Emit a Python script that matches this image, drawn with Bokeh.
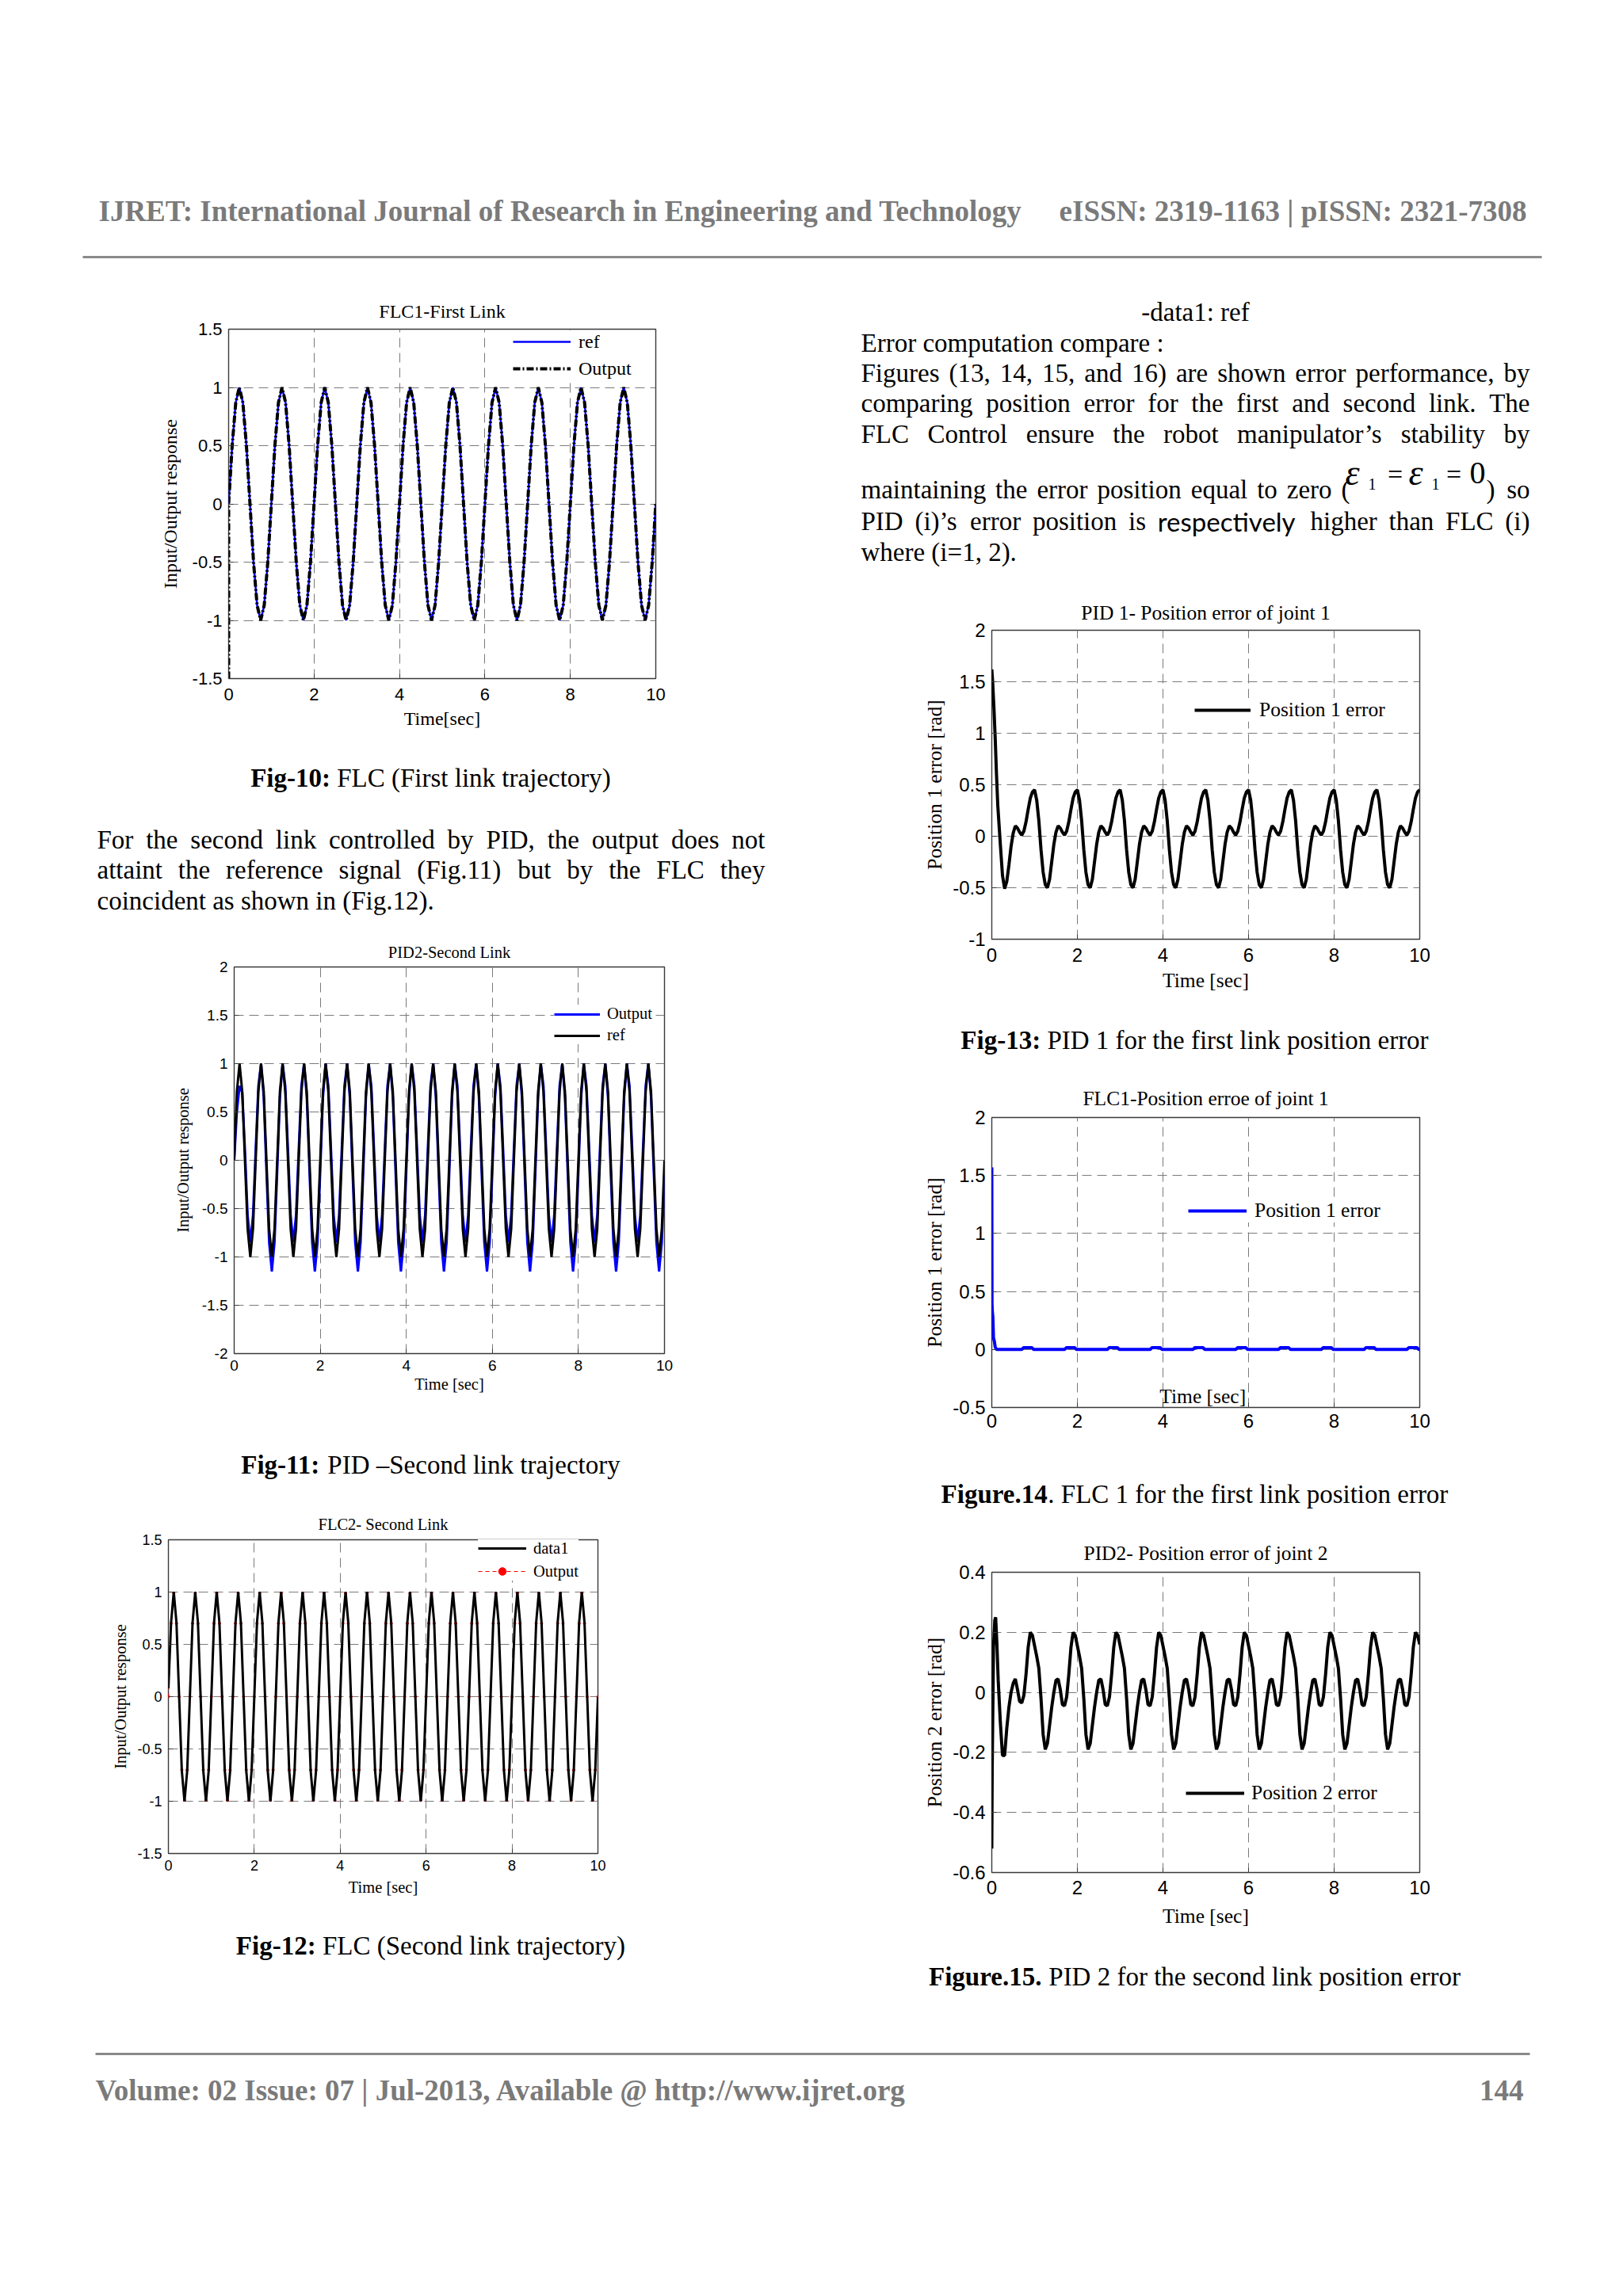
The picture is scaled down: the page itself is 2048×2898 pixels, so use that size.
import numpy as np
from bokeh.plotting import figure
from bokeh.layouts import column, row
from bokeh.models import Range1d, FixedTicker, NumeralTickFormatter, Legend, LegendItem, Label, Spacer
from bokeh.core.properties import value
from bokeh.embed import file_html
from bokeh.resources import INLINE

SERIF = "Liberation Serif"
SANS = "Liberation Sans"
BLUE = "#0000ff"

# ---------------------------------------------------------------- data
x_ticks = [0, 2, 4, 6, 8, 10]

# Fig-10 FLC1 first link (t step 1/12 s)
flc1_time = list(np.arange(121) / 12.0)
flc1_ref = [
    0.0, 0.5, 0.87, 1.0, 0.87, 0.5, 0.0, -0.5, -0.87, -1.0, -0.87, -0.5,
    0.0, 0.5, 0.87, 1.0, 0.87, 0.5, 0.0, -0.5, -0.87, -1.0, -0.87, -0.5,
    0.0, 0.5, 0.87, 1.0, 0.87, 0.5, 0.0, -0.5, -0.87, -1.0, -0.87, -0.5,
    0.0, 0.5, 0.87, 1.0, 0.87, 0.5, 0.0, -0.5, -0.87, -1.0, -0.87, -0.5,
    0.0, 0.5, 0.87, 1.0, 0.87, 0.5, 0.0, -0.5, -0.87, -1.0, -0.87, -0.5,
    0.0, 0.5, 0.87, 1.0, 0.87, 0.5, 0.0, -0.5, -0.87, -1.0, -0.87, -0.5,
    0.0, 0.5, 0.87, 1.0, 0.87, 0.5, 0.0, -0.5, -0.87, -1.0, -0.87, -0.5,
    0.0, 0.5, 0.87, 1.0, 0.87, 0.5, 0.0, -0.5, -0.87, -1.0, -0.87, -0.5,
    0.0, 0.5, 0.87, 1.0, 0.87, 0.5, 0.0, -0.5, -0.87, -1.0, -0.87, -0.5,
    0.0, 0.5, 0.87, 1.0, 0.87, 0.5, 0.0, -0.5, -0.87, -1.0, -0.87, -0.5,
    0.0,
]
flc1_output_time = [0.0] + flc1_time
flc1_output = [
    -1.5,
    0.0, 0.5, 0.87, 1.0, 0.87, 0.5, 0.0, -0.5, -0.87, -1.0, -0.87, -0.5,
    0.0, 0.5, 0.87, 1.0, 0.87, 0.5, 0.0, -0.5, -0.87, -1.0, -0.87, -0.5,
    0.0, 0.5, 0.87, 1.0, 0.87, 0.5, 0.0, -0.5, -0.87, -1.0, -0.87, -0.5,
    0.0, 0.5, 0.87, 1.0, 0.87, 0.5, 0.0, -0.5, -0.87, -1.0, -0.87, -0.5,
    0.0, 0.5, 0.87, 1.0, 0.87, 0.5, 0.0, -0.5, -0.87, -1.0, -0.87, -0.5,
    0.0, 0.5, 0.87, 1.0, 0.87, 0.5, 0.0, -0.5, -0.87, -1.0, -0.87, -0.5,
    0.0, 0.5, 0.87, 1.0, 0.87, 0.5, 0.0, -0.5, -0.87, -1.0, -0.87, -0.5,
    0.0, 0.5, 0.87, 1.0, 0.87, 0.5, 0.0, -0.5, -0.87, -1.0, -0.87, -0.5,
    0.0, 0.5, 0.87, 1.0, 0.87, 0.5, 0.0, -0.5, -0.87, -1.0, -0.87, -0.5,
    0.0, 0.5, 0.87, 1.0, 0.87, 0.5, 0.0, -0.5, -0.87, -1.0, -0.87, -0.5,
    0.0,
]

# Fig-11 PID2 second link (t step 1/16 s)
pid2_time = list(np.arange(161) / 16.0)
pid2_output = [
    0.0, 0.50, 0.77, 0.70, 0.11, -0.57, -0.85, -0.57, 0.11, 0.77, 1.0, 0.65, -0.11, -0.85, -1.15, -0.85,
    -0.11, 0.65, 1.0, 0.77, 0.11, -0.57, -0.85, -0.57, 0.11, 0.77, 1.0, 0.65, -0.11, -0.85, -1.15, -0.85,
    -0.11, 0.65, 1.0, 0.77, 0.11, -0.57, -0.85, -0.57, 0.11, 0.77, 1.0, 0.65, -0.11, -0.85, -1.15, -0.85,
    -0.11, 0.65, 1.0, 0.77, 0.11, -0.57, -0.85, -0.57, 0.11, 0.77, 1.0, 0.65, -0.11, -0.85, -1.15, -0.85,
    -0.11, 0.65, 1.0, 0.77, 0.11, -0.57, -0.85, -0.57, 0.11, 0.77, 1.0, 0.65, -0.11, -0.85, -1.15, -0.85,
    -0.11, 0.65, 1.0, 0.77, 0.11, -0.57, -0.85, -0.57, 0.11, 0.77, 1.0, 0.65, -0.11, -0.85, -1.15, -0.85,
    -0.11, 0.65, 1.0, 0.77, 0.11, -0.57, -0.85, -0.57, 0.11, 0.77, 1.0, 0.65, -0.11, -0.85, -1.15, -0.85,
    -0.11, 0.65, 1.0, 0.77, 0.11, -0.57, -0.85, -0.57, 0.11, 0.77, 1.0, 0.65, -0.11, -0.85, -1.15, -0.85,
    -0.11, 0.65, 1.0, 0.77, 0.11, -0.57, -0.85, -0.57, 0.11, 0.77, 1.0, 0.65, -0.11, -0.85, -1.15, -0.85,
    -0.11, 0.65, 1.0, 0.77, 0.11, -0.57, -0.85, -0.57, 0.11, 0.77, 1.0, 0.65, -0.11, -0.85, -1.15, -0.85,
    -0.16,
]
pid2_ref = [
    0.0, 0.71, 1.0, 0.71, 0.0, -0.71, -1.0, -0.71, 0.0, 0.71, 1.0, 0.71, 0.0, -0.71, -1.0, -0.71,
    0.0, 0.71, 1.0, 0.71, 0.0, -0.71, -1.0, -0.71, 0.0, 0.71, 1.0, 0.71, 0.0, -0.71, -1.0, -0.71,
    0.0, 0.71, 1.0, 0.71, 0.0, -0.71, -1.0, -0.71, 0.0, 0.71, 1.0, 0.71, 0.0, -0.71, -1.0, -0.71,
    0.0, 0.71, 1.0, 0.71, 0.0, -0.71, -1.0, -0.71, 0.0, 0.71, 1.0, 0.71, 0.0, -0.71, -1.0, -0.71,
    0.0, 0.71, 1.0, 0.71, 0.0, -0.71, -1.0, -0.71, 0.0, 0.71, 1.0, 0.71, 0.0, -0.71, -1.0, -0.71,
    0.0, 0.71, 1.0, 0.71, 0.0, -0.71, -1.0, -0.71, 0.0, 0.71, 1.0, 0.71, 0.0, -0.71, -1.0, -0.71,
    0.0, 0.71, 1.0, 0.71, 0.0, -0.71, -1.0, -0.71, 0.0, 0.71, 1.0, 0.71, 0.0, -0.71, -1.0, -0.71,
    0.0, 0.71, 1.0, 0.71, 0.0, -0.71, -1.0, -0.71, 0.0, 0.71, 1.0, 0.71, 0.0, -0.71, -1.0, -0.71,
    0.0, 0.71, 1.0, 0.71, 0.0, -0.71, -1.0, -0.71, 0.0, 0.71, 1.0, 0.71, 0.0, -0.71, -1.0, -0.71,
    0.0, 0.71, 1.0, 0.71, 0.0, -0.71, -1.0, -0.71, 0.0, 0.71, 1.0, 0.71, 0.0, -0.71, -1.0, -0.71,
    0.0,
]

# Fig-12 FLC2 second link (t step 1/16 s)
flc2_time = list(np.arange(161) / 16.0)
flc2_data1 = [
    0.08, 0.71, 1.0, 0.71, 0.0, -0.71, -1.0, -0.71, 0.0, 0.71, 1.0, 0.71, 0.0, -0.71, -1.0, -0.71,
    0.0, 0.71, 1.0, 0.71, 0.0, -0.71, -1.0, -0.71, 0.0, 0.71, 1.0, 0.71, 0.0, -0.71, -1.0, -0.71,
    0.0, 0.71, 1.0, 0.71, 0.0, -0.71, -1.0, -0.71, 0.0, 0.71, 1.0, 0.71, 0.0, -0.71, -1.0, -0.71,
    0.0, 0.71, 1.0, 0.71, 0.0, -0.71, -1.0, -0.71, 0.0, 0.71, 1.0, 0.71, 0.0, -0.71, -1.0, -0.71,
    0.0, 0.71, 1.0, 0.71, 0.0, -0.71, -1.0, -0.71, 0.0, 0.71, 1.0, 0.71, 0.0, -0.71, -1.0, -0.71,
    0.0, 0.71, 1.0, 0.71, 0.0, -0.71, -1.0, -0.71, 0.0, 0.71, 1.0, 0.71, 0.0, -0.71, -1.0, -0.71,
    0.0, 0.71, 1.0, 0.71, 0.0, -0.71, -1.0, -0.71, 0.0, 0.71, 1.0, 0.71, 0.0, -0.71, -1.0, -0.71,
    0.0, 0.71, 1.0, 0.71, 0.0, -0.71, -1.0, -0.71, 0.0, 0.71, 1.0, 0.71, 0.0, -0.71, -1.0, -0.71,
    0.0, 0.71, 1.0, 0.71, 0.0, -0.71, -1.0, -0.71, 0.0, 0.71, 1.0, 0.71, 0.0, -0.71, -1.0, -0.71,
    0.0, 0.71, 1.0, 0.71, 0.0, -0.71, -1.0, -0.71, 0.0, 0.71, 1.0, 0.71, 0.0, -0.71, -1.0, -0.71,
    0.0,
]
flc2_output = [
    0.0, 0.70, 0.99, 0.70, 0.0, -0.70, -0.99, -0.70, 0.0, 0.70, 0.99, 0.70, 0.0, -0.70, -0.99, -0.70,
    0.0, 0.70, 0.99, 0.70, 0.0, -0.70, -0.99, -0.70, 0.0, 0.70, 0.99, 0.70, 0.0, -0.70, -0.99, -0.70,
    0.0, 0.70, 0.99, 0.70, 0.0, -0.70, -0.99, -0.70, 0.0, 0.70, 0.99, 0.70, 0.0, -0.70, -0.99, -0.70,
    0.0, 0.70, 0.99, 0.70, 0.0, -0.70, -0.99, -0.70, 0.0, 0.70, 0.99, 0.70, 0.0, -0.70, -0.99, -0.70,
    0.0, 0.70, 0.99, 0.70, 0.0, -0.70, -0.99, -0.70, 0.0, 0.70, 0.99, 0.70, 0.0, -0.70, -0.99, -0.70,
    0.0, 0.70, 0.99, 0.70, 0.0, -0.70, -0.99, -0.70, 0.0, 0.70, 0.99, 0.70, 0.0, -0.70, -0.99, -0.70,
    0.0, 0.70, 0.99, 0.70, 0.0, -0.70, -0.99, -0.70, 0.0, 0.70, 0.99, 0.70, 0.0, -0.70, -0.99, -0.70,
    0.0, 0.70, 0.99, 0.70, 0.0, -0.70, -0.99, -0.70, 0.0, 0.70, 0.99, 0.70, 0.0, -0.70, -0.99, -0.70,
    0.0, 0.70, 0.99, 0.70, 0.0, -0.70, -0.99, -0.70, 0.0, 0.70, 0.99, 0.70, 0.0, -0.70, -0.99, -0.70,
    0.0, 0.70, 0.99, 0.70, 0.0, -0.70, -0.99, -0.70, 0.0, 0.70, 0.99, 0.70, 0.0, -0.70, -0.99, -0.70,
    0.0,
]

# Fig-13 PID 1 position error of joint 1
pid1_err_time = [0.0, 0.02, 0.05, 0.08, 0.11, 0.14] + [round(v, 2) for v in 0.20 + 0.05 * np.arange(197)]
pid1_err = [
    1.62, 1.50, 1.25, 0.95, 0.60, 0.30,
    -0.08, -0.38, -0.51, -0.44, -0.28, -0.10, 0.03, 0.10, 0.08, 0.04, 0.01, 0.05, 0.14, 0.26, 0.37, 0.43,
    0.45, 0.35, 0.15, -0.13, -0.35, -0.47, -0.50, -0.42, -0.25, -0.08, 0.04, 0.10, 0.08, 0.04, 0.01, 0.05, 0.14, 0.26, 0.37, 0.43,
    0.45, 0.35, 0.15, -0.13, -0.35, -0.47, -0.50, -0.42, -0.25, -0.08, 0.04, 0.10, 0.08, 0.04, 0.01, 0.05, 0.14, 0.26, 0.37, 0.43,
    0.45, 0.35, 0.15, -0.13, -0.35, -0.47, -0.50, -0.42, -0.25, -0.08, 0.04, 0.10, 0.08, 0.04, 0.01, 0.05, 0.14, 0.26, 0.37, 0.43,
    0.45, 0.35, 0.15, -0.13, -0.35, -0.47, -0.50, -0.42, -0.25, -0.08, 0.04, 0.10, 0.08, 0.04, 0.01, 0.05, 0.14, 0.26, 0.37, 0.43,
    0.45, 0.35, 0.15, -0.13, -0.35, -0.47, -0.50, -0.42, -0.25, -0.08, 0.04, 0.10, 0.08, 0.04, 0.01, 0.05, 0.14, 0.26, 0.37, 0.43,
    0.45, 0.35, 0.15, -0.13, -0.35, -0.47, -0.50, -0.42, -0.25, -0.08, 0.04, 0.10, 0.08, 0.04, 0.01, 0.05, 0.14, 0.26, 0.37, 0.43,
    0.45, 0.35, 0.15, -0.13, -0.35, -0.47, -0.50, -0.42, -0.25, -0.08, 0.04, 0.10, 0.08, 0.04, 0.01, 0.05, 0.14, 0.26, 0.37, 0.43,
    0.45, 0.35, 0.15, -0.13, -0.35, -0.47, -0.50, -0.42, -0.25, -0.08, 0.04, 0.10, 0.08, 0.04, 0.01, 0.05, 0.14, 0.26, 0.37, 0.43,
    0.45, 0.35, 0.15, -0.13, -0.35, -0.47, -0.50, -0.42, -0.25, -0.08, 0.04, 0.10, 0.08, 0.04, 0.01, 0.05, 0.14, 0.26, 0.37, 0.43,
    0.45,
]

# Figure.14 FLC1 position error of joint 1
flc1_err_time = [
    0.0, 0.005, 0.012, 0.025, 0.04, 0.06, 0.08, 0.11,
    0.70, 0.74, 0.94, 0.98, 1.70, 1.74, 1.94, 1.98, 2.70, 2.74, 2.94, 2.98,
    3.70, 3.74, 3.94, 3.98, 4.70, 4.74, 4.94, 4.98, 5.70, 5.74, 5.94, 5.98,
    6.70, 6.74, 6.94, 6.98, 7.70, 7.74, 7.94, 7.98, 8.70, 8.74, 8.94, 8.98,
    9.70, 9.74, 9.94, 9.98, 10.0,
]
flc1_err = [
    1.57, 0.40, 0.33, 0.28, 0.10, 0.07, 0.02, 0.0,
    0.0, 0.015, 0.015, 0.0, 0.0, 0.015, 0.015, 0.0, 0.0, 0.015, 0.015, 0.0,
    0.0, 0.015, 0.015, 0.0, 0.0, 0.015, 0.015, 0.0, 0.0, 0.015, 0.015, 0.0,
    0.0, 0.015, 0.015, 0.0, 0.0, 0.015, 0.015, 0.0, 0.0, 0.015, 0.015, 0.0,
    0.0, 0.015, 0.015, 0.0, 0.0,
]

# Figure.15 PID2 position error of joint 2
pid2_err_time = [0.0, 0.01, 0.04, 0.07, 0.09, 0.12] + [round(v, 2) for v in 0.15 + 0.05 * np.arange(198)]
pid2_err = [
    -0.52, -0.25, 0.15, 0.24, 0.25, 0.16,
    0.04, -0.10, -0.21, -0.21, -0.12, -0.05, 0.0, 0.03, 0.045, 0.01, -0.03, -0.035, -0.01, 0.06, 0.15, 0.20, 0.19,
    0.155, 0.12, 0.08, -0.02, -0.14, -0.19, -0.17, -0.11, -0.05, 0.0, 0.04, 0.045, 0.01, -0.04, -0.045, -0.015, 0.06, 0.15, 0.20, 0.19,
    0.155, 0.12, 0.08, -0.02, -0.14, -0.19, -0.17, -0.11, -0.05, 0.0, 0.04, 0.045, 0.01, -0.04, -0.045, -0.015, 0.06, 0.15, 0.20, 0.19,
    0.155, 0.12, 0.08, -0.02, -0.14, -0.19, -0.17, -0.11, -0.05, 0.0, 0.04, 0.045, 0.01, -0.04, -0.045, -0.015, 0.06, 0.15, 0.20, 0.19,
    0.155, 0.12, 0.08, -0.02, -0.14, -0.19, -0.17, -0.11, -0.05, 0.0, 0.04, 0.045, 0.01, -0.04, -0.045, -0.015, 0.06, 0.15, 0.20, 0.19,
    0.155, 0.12, 0.08, -0.02, -0.14, -0.19, -0.17, -0.11, -0.05, 0.0, 0.04, 0.045, 0.01, -0.04, -0.045, -0.015, 0.06, 0.15, 0.20, 0.19,
    0.155, 0.12, 0.08, -0.02, -0.14, -0.19, -0.17, -0.11, -0.05, 0.0, 0.04, 0.045, 0.01, -0.04, -0.045, -0.015, 0.06, 0.15, 0.20, 0.19,
    0.155, 0.12, 0.08, -0.02, -0.14, -0.19, -0.17, -0.11, -0.05, 0.0, 0.04, 0.045, 0.01, -0.04, -0.045, -0.015, 0.06, 0.15, 0.20, 0.19,
    0.155, 0.12, 0.08, -0.02, -0.14, -0.19, -0.17, -0.11, -0.05, 0.0, 0.04, 0.045, 0.01, -0.04, -0.045, -0.015, 0.06, 0.15, 0.20, 0.19,
    0.155, 0.12, 0.08, -0.02, -0.14, -0.19, -0.17, -0.11, -0.05, 0.0, 0.04, 0.045, 0.01, -0.04, -0.045, -0.015, 0.06, 0.15, 0.20, 0.19,
    0.16,
]

# ---------------------------------------------------------------- text metrics (Times metrics, per 1000 em)
REG = {' ': 250, '(': 333, ')': 333, ',': 250, '-': 333, '.': 250, ':': 278, '=': 564, "'": 180, '’': 333, '–': 500,
       'A': 722, 'B': 667, 'C': 667, 'D': 722, 'E': 611, 'F': 556, 'G': 722, 'H': 722, 'I': 333, 'J': 389,
       'K': 722, 'L': 611, 'M': 889, 'N': 722, 'O': 722, 'P': 556, 'R': 667, 'S': 556, 'T': 611, 'U': 722,
       'a': 444, 'b': 500, 'c': 444, 'd': 500, 'e': 444, 'f': 333, 'g': 500, 'h': 500, 'i': 278, 'j': 278,
       'k': 500, 'l': 278, 'm': 778, 'n': 500, 'o': 500, 'p': 500, 'q': 500, 'r': 333, 's': 389, 't': 278,
       'u': 500, 'v': 500, 'w': 722, 'x': 500, 'y': 500, 'z': 444}
BOLD = {' ': 250, ':': 333, '-': 333, '.': 250, 'F': 611, 'i': 278, 'g': 500, 'u': 556, 'r': 444, 'e': 444}


def tw(s, size, table=REG):
    return sum(table.get(c, 500) for c in s) * size / 1000.0


# ---------------------------------------------------------------- layout geometry (page pixels)
W_L, W_R = 982, 1040          # column widths; right column starts at x = W_L
BL_L, BR_L = 110, 14          # shared borders of every figure in the left column
BL_R, BR_R = 100, 20          # shared borders of every figure in the right column


def text_fig(x0, w, top, h, bl, br):
    f = figure(width=w, height=h, x_range=Range1d(x0 + bl, x0 + w - br), y_range=Range1d(top + h, top),
               x_axis_type=None, y_axis_type=None, output_backend="svg", toolbar_location=None,
               min_border_left=bl, min_border_right=br, min_border_top=0, min_border_bottom=0)
    f.outline_line_color = None
    f.background_fill_color = "white"
    f.border_fill_color = "white"
    return f


def put(f, x, y, s, size, font=SERIF, style="normal", align="left", color="black"):
    f.text(x=[x], y=[y], text=[s], text_font=value(font), text_font_size=f"{size}px",
           text_font_style=style, text_align=align, text_baseline="middle", text_color=color)


def justify(f, x0, x1, y, line, size=33, special=None):
    special = special or {}
    words = line.split(" ")
    ws = [special[w][1] if w in special else tw(w, size) for w in words]
    gap = (x1 - x0 - sum(ws)) / (len(words) - 1)
    xs, x = [], x0
    for wd in ws:
        xs.append(x)
        x += wd + gap
    nx = [xx for w, xx in zip(words, xs) if w not in special]
    nw = [w for w in words if w not in special]
    f.text(x=nx, y=[y] * len(nx), text=nw, text_font=value(SERIF), text_font_size=f"{size}px",
           text_baseline="middle", text_align="left", text_color="black")
    for w, xx in zip(words, xs):
        if w in special:
            put(f, xx, y, w, special[w][2], font=special[w][0])


def caption(f, cx, y, bold, rest, size=33):
    wb = tw(bold, size, BOLD)
    total = wb + tw(rest, size)
    x0 = cx - total / 2.0
    put(f, x0, y, bold, size, style="bold")
    body = rest.lstrip(" ")
    lead = tw(" " * (len(rest) - len(body)), size)
    put(f, x0 + wb + lead, y, body, size)


def chart(frame_x0, frame_x1, h, bt, bb, bl, br, yr, yticks, title, xlabel, ylabel,
          tick_px, txt_px, ysd, xsd, xtick_sd, title_sd):
    w = bl + (frame_x1 - frame_x0) + br
    p = figure(width=w, height=h, x_range=Range1d(0, 10), y_range=Range1d(*yr),
               output_backend="svg", toolbar_location=None,
               min_border_left=bl, min_border_right=br, min_border_top=bt, min_border_bottom=bb)
    p.background_fill_color = "white"
    p.border_fill_color = "white"
    p.title.text = title
    p.title.align = "center"
    p.title.text_font = SERIF
    p.title.text_font_style = "normal"
    p.title.text_font_size = f"{txt_px}px"
    p.title.text_color = "black"
    p.title.standoff = title_sd
    p.outline_line_color = "#3a3a3a"
    p.outline_line_width = 1.4
    p.outline_line_alpha = 1.0
    p.xaxis.ticker = FixedTicker(ticks=x_ticks)
    p.yaxis.ticker = FixedTicker(ticks=yticks)
    for ax in (p.xaxis[0], p.yaxis[0]):
        ax.axis_line_color = None
        ax.major_tick_in = 6
        ax.major_tick_out = 0
        ax.major_tick_line_color = "#3a3a3a"
        ax.minor_tick_line_color = None
        ax.formatter = NumeralTickFormatter(format="0.[0]")
        ax.major_label_text_font = SANS
        ax.major_label_text_font_size = f"{tick_px}px"
        ax.major_label_text_color = "black"
        ax.major_label_standoff = 8
        ax.axis_label_text_font = SERIF
        ax.axis_label_text_font_style = "normal"
        ax.axis_label_text_font_size = f"{txt_px}px"
        ax.axis_label_text_color = "black"
    p.xaxis.major_label_standoff = xtick_sd
    if xlabel:
        p.xaxis.axis_label = xlabel
        p.xaxis.axis_label_standoff = xsd
    p.yaxis.axis_label = ylabel
    p.yaxis.axis_label_standoff = ysd
    p.grid.grid_line_color = "#7a7a7a"
    p.grid.grid_line_dash = "12 7"
    p.grid.grid_line_width = 1
    return p


def add_legend(p, items, loc, glyph_w, row_h, spacing, standoff, size):
    leg = Legend(items=[LegendItem(label=value(lab), renderers=rs) for lab, rs in items],
                 location=loc, orientation="vertical", padding=6, margin=0, spacing=spacing,
                 glyph_width=glyph_w, glyph_height=row_h, label_height=row_h, label_standoff=standoff,
                 label_text_font=SERIF, label_text_font_size=f"{size}px", label_text_color="black",
                 background_fill_color="white", background_fill_alpha=1.0, border_line_color=None)
    p.add_layout(leg)


def place(fig, fig_x, col_x, col_w):
    kids = []
    lead = fig_x - col_x
    if lead > 0:
        kids.append(Spacer(width=lead, height=1))
    kids.append(fig)
    tail = col_w - lead - fig.width
    if tail > 0:
        kids.append(Spacer(width=tail, height=1))
    return row(*kids, spacing=0)


ticks_15 = [-1.5, -1, -0.5, 0, 0.5, 1, 1.5]

# Fig-10  (frame x 288..827, y 415..856)
c1 = chart(288, 827, 580, 55, 84, BL_L, BR_L, (-1.5, 1.5), ticks_15, "FLC1-First Link",
           "Time[sec]", "Input/Output response", 22, 24, 12, 7, 12, 19)
r1a = c1.line(flc1_time, flc1_ref, line_color=BLUE, line_width=2.5)
r1b = c1.line(flc1_output_time, flc1_output, line_color="black", line_width=4, line_dash="9 3 2 3")
add_legend(c1, [("ref", [r1a]), ("Output", [r1b])], (359, 377), 73, 28, 6, 10, 24)

# Fig-11  (frame x 295..838, y 1220..1708)
c2 = chart(295, 838, 600, 50, 62, BL_L, BR_L, (-2, 2), [-2, -1.5, -1, -0.5, 0, 0.5, 1, 1.5, 2],
           "PID2-Second Link", "Time [sec]", "Input/Output response", 19, 20.5, 10, 3, 8, 15)
r2a = c2.line(pid2_time, pid2_output, line_color=BLUE, line_width=3)
r2b = c2.line(pid2_time, pid2_ref, line_color="black", line_width=3)
add_legend(c2, [("Output", [r2a]), ("ref", [r2b])], (404, 390), 58, 20, 4, 9, 20.5)

# Fig-12  (frame x 212..754, y 1943..2339)
c3 = chart(212, 754, 530, 53, 81, BL_L, BR_L, (-1.5, 1.5), ticks_15, "FLC2- Second Link",
           "Time [sec]", "Input/Output response", 18, 20.5, 7, 7, 8, 17)
r3b = c3.line(flc2_time, flc2_output, line_color="#ff0000", line_width=1.2, line_dash="5 4")
r3c = c3.scatter(flc2_time, flc2_output, marker="circle", size=3, color="#ff0000")
r3a = c3.line(flc2_time, flc2_data1, line_color="black", line_width=3)
add_legend(c3, [("data1", [r3a]), ("Output", [r3b, r3c])], (391, 344), 61, 24, 5, 9, 20.5)

# Fig-13  (frame x 1251..1791, y 795..1185)
c4 = chart(1251, 1791, 515, 50, 75, BL_R, BR_R, (-1, 2), [-1, -0.5, 0, 0.5, 1, 1.5, 2],
           "PID 1- Position error of joint 1", "Time [sec]", "Position 1 error [rad]", 24, 25.5, 5, 6, 11, 16)
r4 = c4.line(pid1_err_time, pid1_err, line_color="black", line_width=4)
add_legend(c4, [("Position 1 error", [r4])], (256, 274), 71, 28, 0, 11, 25.5)

# Figure.14  (frame x 1251..1791, y 1409..1776)
c5 = chart(1251, 1791, 470, 49, 54, BL_R, BR_R, (-0.5, 2), [-0.5, 0, 0.5, 1, 1.5, 2],
           "FLC1-Position erroe of joint 1", None, "Position 1 error [rad]", 24, 25.5, 5, 0, 8, 19)
r5 = c5.line(flc1_err_time, flc1_err, line_color=BLUE, line_width=4)
add_legend(c5, [("Position 1 error", [r5])], (248, 233), 74, 28, 0, 10, 25.5)
c5.add_layout(Label(x=4.93, y=-0.405, text="Time [sec]", text_align="center", text_baseline="middle",
                    text_font=SERIF, text_font_size="25.5px", text_color="black"))

# Figure.15  (frame x 1251..1791, y 1984..2363)
c6 = chart(1251, 1791, 510, 54, 77, BL_R, BR_R, (-0.6, 0.4), [-0.6, -0.4, -0.2, 0, 0.2, 0.4],
           "PID2- Position error of joint 2", "Time [sec]", "Position 2 error [rad]", 24, 25.5, 5, 10, 10, 20)
r6 = c6.line(pid2_err_time, pid2_err, line_color="black", line_width=4)
add_legend(c6, [("Position 2 error", [r6])], (245, 85), 74, 28, 0, 9, 25.5)

# ---------------------------------------------------------------- page text
GREY = "#7a7a7a"
hdr = text_fig(0, 2040, 0, 360, 0, 0)
put(hdr, 124, 266, "IJRET: International Journal of Research in Engineering and Technology", 37, style="bold", color=GREY)
put(hdr, 1926, 266, "eISSN: 2319-1163 | pISSN: 2321-7308", 37, style="bold", align="right", color=GREY)
hdr.line([104, 1945], [324, 324], line_color="#8a8a8a", line_width=3)

ftr = text_fig(0, 2040, 2560, 330, 0, 0)
ftr.line([120, 1930], [2592, 2592], line_color="#8a8a8a", line_width=3)
put(ftr, 120, 2638, "Volume: 02 Issue: 07 | Jul-2013, Available @ http://www.ijret.org", 37, style="bold", color=GREY)
put(ftr, 1922, 2638, "144", 37, style="bold", align="right", color=GREY)

t_left1 = text_fig(0, W_L, 940, 230, BL_L, BR_L)
caption(t_left1, 543, 981, "Fig-10:", " FLC (First link trajectory)")
justify(t_left1, 122, 965, 1059, "For the second link controlled by PID, the output does not")
justify(t_left1, 122, 965, 1097.5, "attaint the reference signal (Fig.11) but by the FLC they")
put(t_left1, 122, 1136, "coincident as shown in (Fig.12).", 33)

t_left2 = text_fig(0, W_L, 1770, 120, BL_L, BR_L)
caption(t_left2, 543, 1848, "Fig-11:", " PID –Second link trajectory")

t_left3 = text_fig(0, W_L, 2420, 140, BL_L, BR_L)
caption(t_left3, 543, 2455, "Fig-12:", " FLC (Second link trajectory)")

t_right1 = text_fig(W_L, W_R, 360, 385, BL_R, BR_R)
put(t_right1, 1508, 393, "-data1: ref", 33, align="center")
put(t_right1, 1086, 432, "Error computation compare :", 33)
justify(t_right1, 1086, 1930, 470, "Figures (13, 14, 15, and 16) are shown error performance, by")
justify(t_right1, 1086, 1930, 508.5, "comparing position error for the first and second link. The")
justify(t_right1, 1086, 1930, 547, "FLC Control ensure the robot manipulator’s stability by")
justify(t_right1, 1086, 1703, 617, "maintaining the error position equal to zero (")
put(t_right1, 1697, 596, "ε", 46, style="italic")
put(t_right1, 1726, 610, "1", 20)
put(t_right1, 1760, 598, "=", 34, align="center")
put(t_right1, 1777, 596, "ε", 46, style="italic")
put(t_right1, 1806, 610, "1", 20)
put(t_right1, 1834, 598, "=", 34, align="center")
put(t_right1, 1854, 596, "0", 40)
put(t_right1, 1875, 617, ")", 33)
put(t_right1, 1930, 617, "so", 33, align="right")
justify(t_right1, 1086, 1930, 657, "PID (i)’s error position is respectively higher than FLC (i)",
        special={"respectively": ("Lato", 178, 33)})
put(t_right1, 1086, 696, "where (i=1, 2).", 33)

t_right2 = text_fig(W_L, W_R, 1260, 100, BL_R, BR_R)
caption(t_right2, 1507, 1312, "Fig-13:", " PID 1 for the first link position error")
t_right3 = text_fig(W_L, W_R, 1830, 100, BL_R, BR_R)
caption(t_right3, 1507, 1885, "Figure.14", ". FLC 1 for the first link position error")
t_right4 = text_fig(W_L, W_R, 2440, 120, BL_R, BR_R)
caption(t_right4, 1507, 2494, "Figure.15.", " PID 2 for the second link position error")

left = column(
    place(c1, 288 - BL_L, 0, W_L),
    place(t_left1, 0, 0, W_L),
    place(c2, 295 - BL_L, 0, W_L),
    place(t_left2, 0, 0, W_L),
    place(c3, 212 - BL_L, 0, W_L),
    place(t_left3, 0, 0, W_L),
    spacing=0)
right = column(
    place(t_right1, W_L, W_L, W_R),
    place(c4, 1251 - BL_R, W_L, W_R),
    place(t_right2, W_L, W_L, W_R),
    place(c5, 1251 - BL_R, W_L, W_R),
    place(t_right3, W_L, W_L, W_R),
    place(c6, 1251 - BL_R, W_L, W_R),
    place(t_right4, W_L, W_L, W_R),
    spacing=0)
layout = column(hdr, row(left, right, spacing=0), ftr, spacing=0)

open("out.html", "w").write(file_html(layout, INLINE))
